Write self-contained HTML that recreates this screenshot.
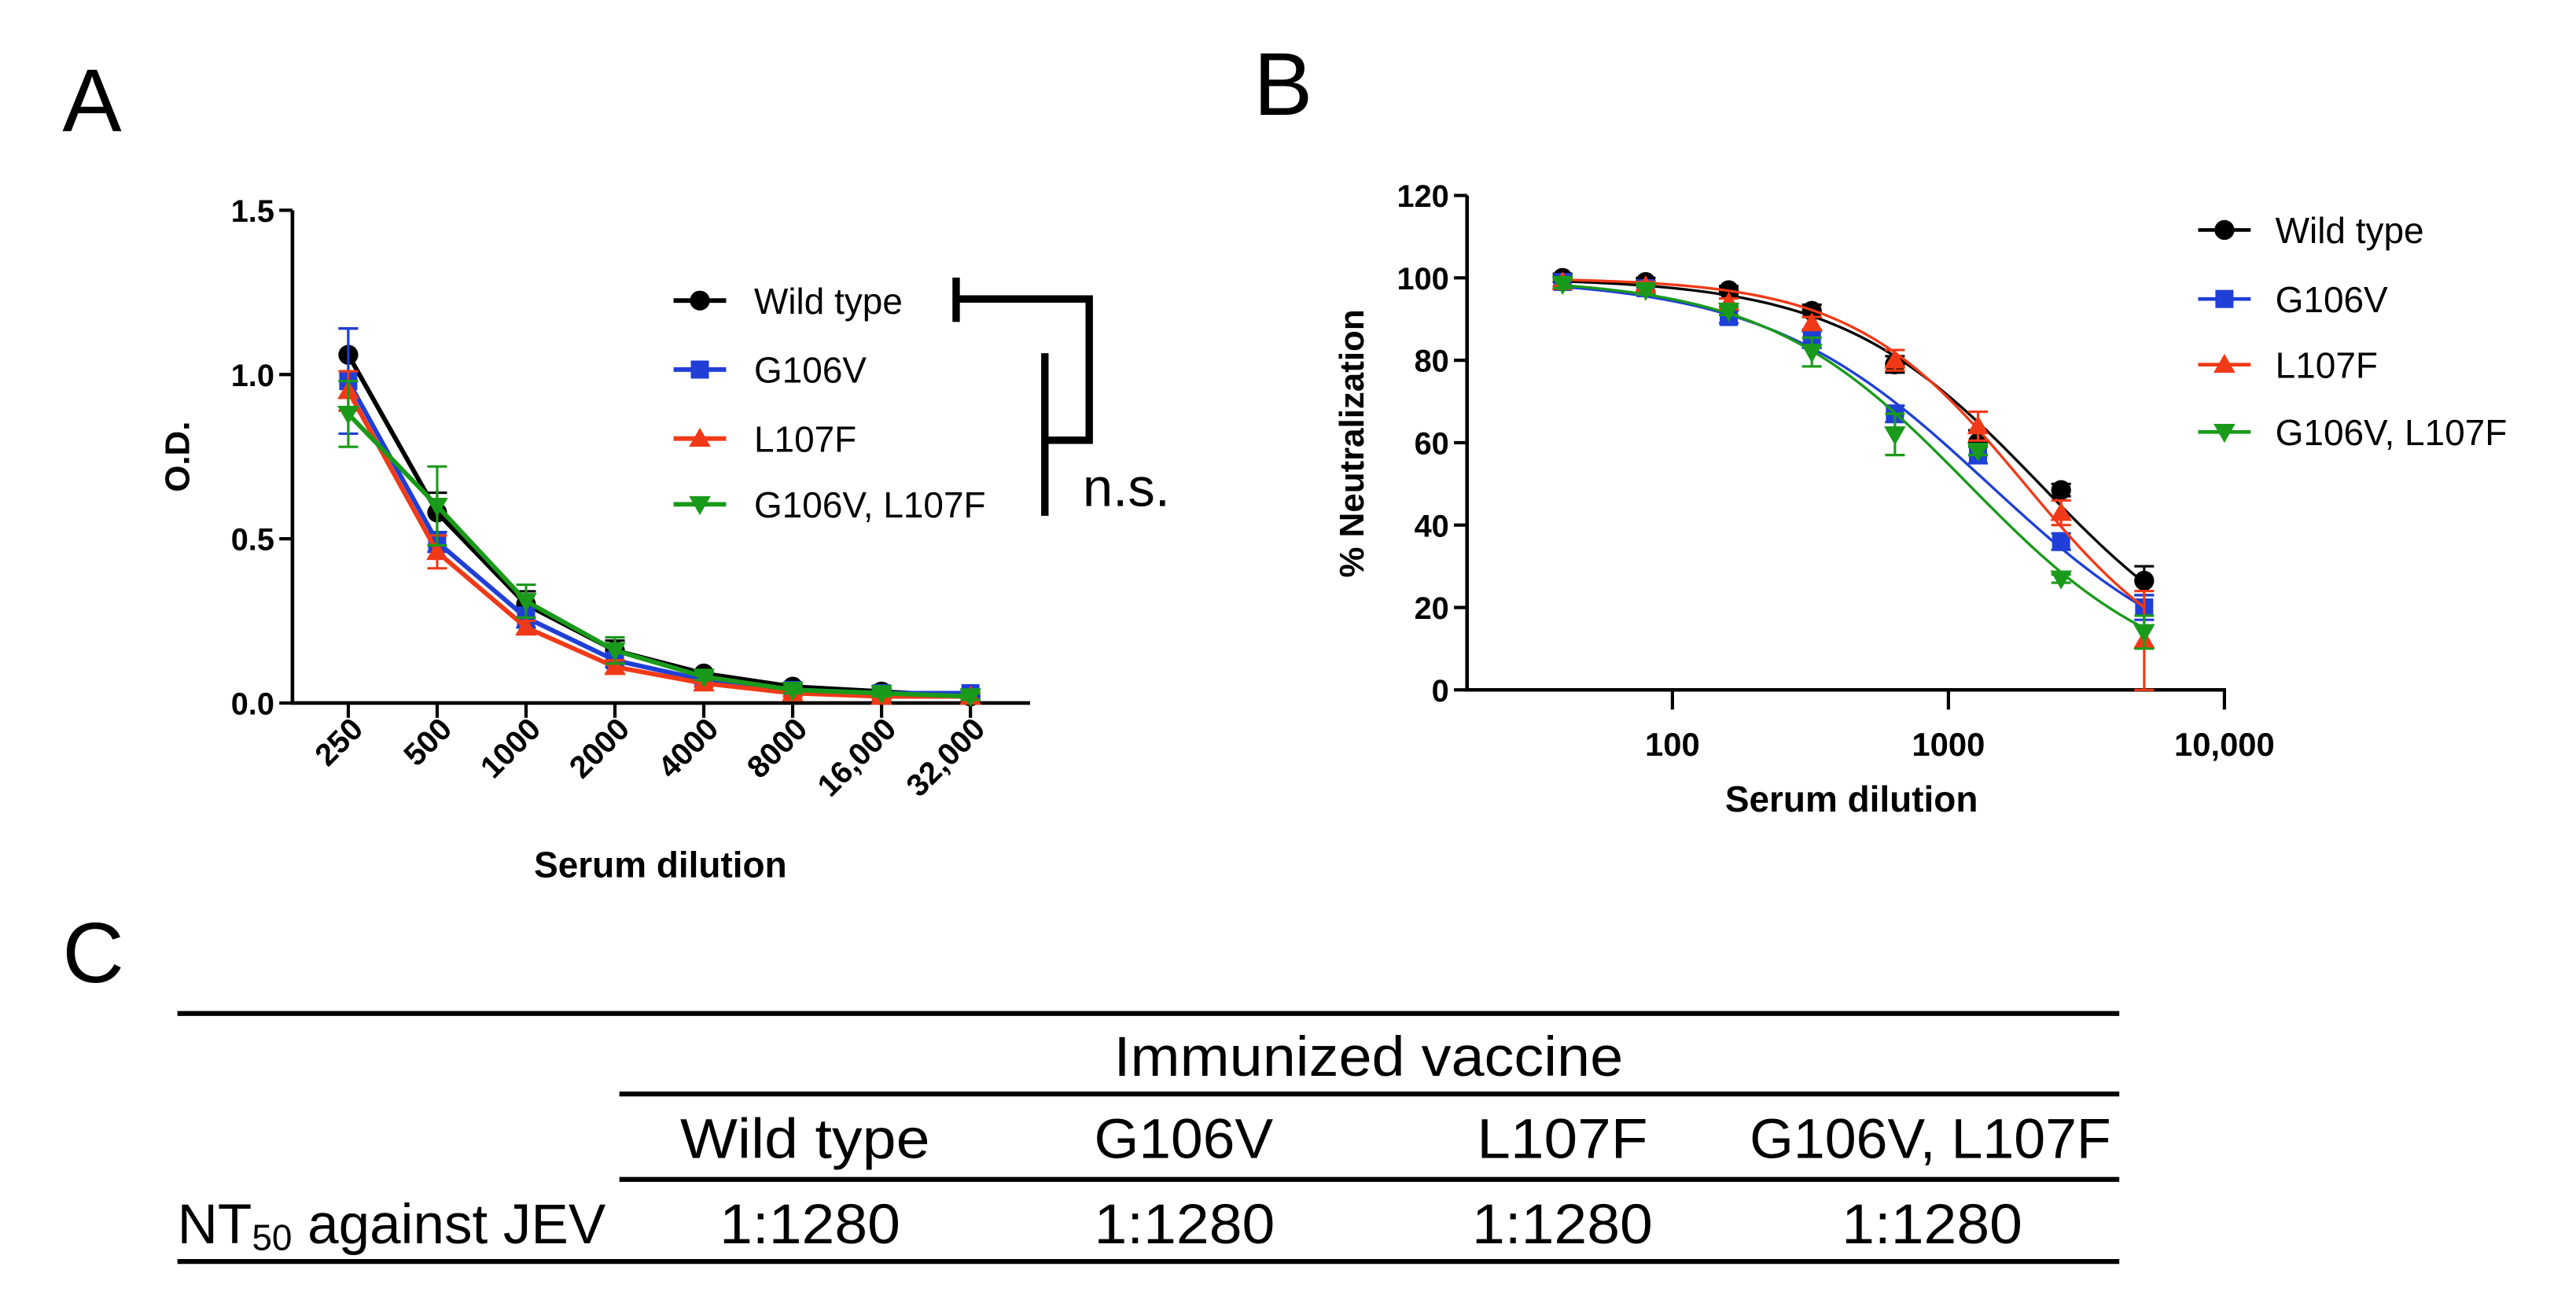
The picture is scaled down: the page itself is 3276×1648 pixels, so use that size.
<!DOCTYPE html>
<html><head><meta charset="utf-8"><style>
html,body{margin:0;padding:0;background:#fff;}
svg{display:block;}
text{font-family:"Liberation Sans",sans-serif;}
</style></head><body>
<svg id="fig" width="3276" height="1648" viewBox="0 0 1568 789" preserveAspectRatio="none" xmlns="http://www.w3.org/2000/svg">
<rect width="1568" height="789" fill="#fff"/>
<g id="pa"></g>
<g id="pb"></g>
<g id="pc">
<text x="38" y="598" font-size="52">C</text>
<line x1="108" y1="617" x2="1290" y2="617" stroke="#000" stroke-width="3"/>
<text x="678" y="655" font-size="34" textLength="310" lengthAdjust="spacingAndGlyphs">Immunized vaccine</text>
<line x1="377" y1="666" x2="1290" y2="666" stroke="#000" stroke-width="3"/>
<text x="414" y="705" font-size="34" textLength="152" lengthAdjust="spacingAndGlyphs">Wild type</text>
<text x="666" y="705" font-size="34" textLength="109" lengthAdjust="spacingAndGlyphs">G106V</text>
<text x="899" y="705" font-size="34" textLength="104" lengthAdjust="spacingAndGlyphs">L107F</text>
<text x="1065" y="705" font-size="34" textLength="220" lengthAdjust="spacingAndGlyphs">G106V, L107F</text>
<line x1="377" y1="718" x2="1290" y2="718" stroke="#000" stroke-width="3"/>
<text x="108" y="757" font-size="34">NT<tspan font-size="22" dy="4">50</tspan><tspan dy="-4"> against JEV</tspan></text>
<text x="438" y="757" font-size="34" textLength="110" lengthAdjust="spacingAndGlyphs">1:1280</text>
<text x="666" y="757" font-size="34" textLength="110" lengthAdjust="spacingAndGlyphs">1:1280</text>
<text x="896" y="757" font-size="34" textLength="110" lengthAdjust="spacingAndGlyphs">1:1280</text>
<text x="1121" y="757" font-size="34" textLength="110" lengthAdjust="spacingAndGlyphs">1:1280</text>
<line x1="108" y1="768" x2="1290" y2="768" stroke="#000" stroke-width="3"/>
</g>
</svg>
<script>
const NS='http://www.w3.org/2000/svg';
const seriesNames=['Wild type','G106V','L107F','G106V, L107F'];
const seriesColors=['#000000','#1f3fd6','#f03a17','#1a9a1a'];
const seriesMarkers=['circle','square','tri-up','tri-down'];
// Panel A data
const aCategories=['250','500','1000','2000','4000','8000','16,000','32,000'];
const aWild=[1.06,0.58,0.30,0.16,0.09,0.05,0.035,0.02];
const aG106V=[0.98,0.49,0.26,0.13,0.07,0.04,0.03,0.03];
const aL107F=[0.95,0.46,0.23,0.11,0.06,0.03,0.02,0.02];
const aDouble=[0.88,0.60,0.31,0.16,0.08,0.04,0.03,0.02];
const aErrWild=[0.08,0.06,0.04,0.03,0.01,0.01,0.01,0.01];
const aErrG106V=[0.16,0.03,0.03,0.02,0.01,0.01,0.01,0.01];
const aErrL107F=[0.06,0.05,0.02,0.02,0.01,0.01,0.01,0.01];
const aErrDouble=[0.10,0.12,0.05,0.04,0.01,0.01,0.01,0.01];
const aYTicks=[0,0.5,1.0,1.5];
const aYTickLabels=['0.0','0.5','1.0','1.5'];
// Panel B data
const bDilutions=[40,80,160,320,640,1280,2560,5120];
const bWild=[100,99,97,92,79,60,48.5,26.5];
const bG106V=[99,97.5,90.5,85,67,57,36,20];
const bL107F=[99,98,94,89,80,64,43,12];
const bDouble=[98.5,97,92,82,62,58,27,14];
const bErrWild=[1,1,1,1.5,2,3,1.5,3.5];
const bErrG106V=[1,1,1.5,2,2,2,2,3];
const bErrL107F=[1,1,1,1.5,2.5,3.5,3,12];
const bErrDouble=[1,1,1,3.5,5,1,1,4];
const bTop=[100,100,100,100];
const bIC50=[2140,1400,1890,1177];
const bHill=[1.2,1.07,1.39,1.18];
const bYTicks=[0,20,40,60,80,100,120];
const bXTicks=[100,1000,10000];
const bXTickLabels=['100','1000','10,000'];

function el(parent,tag,attrs,text){const e=document.createElementNS(NS,tag);for(const k in attrs)e.setAttribute(k,attrs[k]);if(text!==undefined)e.textContent=text;parent.appendChild(e);return e;}
function marker(g,type,x,y,s,color){
  let m;
  if(type==='circle')m=el(g,'circle',{cx:x,cy:y,r:s*0.55,fill:color});
  else if(type==='square')m=el(g,'rect',{x:x-s*0.5,y:y-s*0.5,width:s,height:s,fill:color});
  else if(type==='tri-up')m=el(g,'polygon',{points:`${x},${y-s*0.6} ${x-s*0.6},${y+s*0.45} ${x+s*0.6},${y+s*0.45}`,fill:color});
  else m=el(g,'polygon',{points:`${x},${y+s*0.6} ${x-s*0.6},${y-s*0.45} ${x+s*0.6},${y-s*0.45}`,fill:color});
  return m;
}

// ---------- Panel A ----------
(function(){
const g=document.getElementById('pa');
const x0=178,yTop=128,yBot=428,xEnd=627,xFirst=212,xStep=54.1,yMax=1.5;
const X=i=>xFirst+i*xStep;
const Y=v=>yBot-(v/yMax)*(yBot-yTop);
let t=el(g,'text',{x:38,y:80,'font-size':54});t.textContent='A';


let ax=el(g,'path',{d:`M${x0},${yTop} V${yBot} H${xEnd}`,stroke:'#000','stroke-width':2.2,fill:'none'});


aYTicks.forEach((v,i)=>{
  const tk=el(g,'line',{x1:x0-8,x2:x0,y1:Y(v),y2:Y(v),stroke:'#000','stroke-width':2});
  
  
  const lb=el(g,'text',{x:x0-11,y:Y(v)+7,'font-size':19,'font-weight':'bold','text-anchor':'end'},aYTickLabels[i]);
  
  
});
aCategories.forEach((c,i)=>{
  const tk=el(g,'line',{x1:X(i),x2:X(i),y1:yBot,y2:yBot+9,stroke:'#000','stroke-width':2});
  
  
  const lb=el(g,'text',{x:0,y:0,'font-size':19,'font-weight':'bold','text-anchor':'end',transform:`translate(${X(i)+10},${yBot+17}) rotate(-45)`},c);
  
  
});
let yt=el(g,'text',{x:0,y:0,'font-size':21,'font-weight':'bold','text-anchor':'middle',transform:`translate(115,278) rotate(-90)`},'O.D.');


let xt=el(g,'text',{x:402,y:534,'font-size':22,'font-weight':'bold','text-anchor':'middle'},'Serum dilution');


const vals=[aWild,aG106V,aL107F,aDouble],errs=[aErrWild,aErrG106V,aErrL107F,aErrDouble];
vals.forEach((arr,s)=>{
  const sg=el(g,'g',{});
  
  
  const c=seriesColors[s];
  arr.forEach((v,i)=>{
    const e=errs[s][i];
    el(sg,'path',{d:`M${X(i)},${Y(v+e)} V${Y(Math.max(0,v-e))} M${X(i)-6},${Y(v+e)} h12 M${X(i)-6},${Y(Math.max(0,v-e))} h12`,stroke:c,'stroke-width':1.5,fill:'none'});
  });
  el(sg,'polyline',{points:arr.map((v,i)=>`${X(i)},${Y(v)}`).join(' '),stroke:c,'stroke-width':2.8,fill:'none'});
  arr.forEach((v,i)=>{const m=marker(sg,seriesMarkers[s],X(i),Y(v),11,c);
    
    });
});
const legY=[183,225,267,307];
seriesNames.forEach((n,s)=>{
  const lg=el(g,'g',{});
  
  
  el(lg,'line',{x1:410,x2:442,y1:legY[s],y2:legY[s],stroke:seriesColors[s],'stroke-width':2.8});
  marker(lg,seriesMarkers[s],426,legY[s],11,seriesColors[s]);
  el(lg,'text',{x:459,y:legY[s]+8,'font-size':22},n);
});
const br=el(g,'path',{d:'M582,169 V196 M582,182 H663 V268 H636 M636,215 V314',stroke:'#000','stroke-width':4.5,fill:'none'});


const ns=el(g,'text',{x:659,y:308,'font-size':33},'n.s.');


})();

// ---------- Panel B ----------
(function(){
const g=document.getElementById('pb');
const x0=893,xEnd=1355,yBot=420,yTop=119,yMax=120;
const X=d=>1018+(Math.log10(d)-2)*168;
const Y=v=>yBot-(v/yMax)*(yBot-yTop);
let t=el(g,'text',{x:763,y:70,'font-size':54},'B');


let ax=el(g,'path',{d:`M${x0},${yTop} V${yBot} H${xEnd}`,stroke:'#000','stroke-width':2.2,fill:'none'});


bYTicks.forEach(v=>{
  const tk=el(g,'line',{x1:x0-8,x2:x0,y1:Y(v),y2:Y(v),stroke:'#000','stroke-width':2});
  
  
  const lb=el(g,'text',{x:x0-11,y:Y(v)+7,'font-size':19,'font-weight':'bold','text-anchor':'end'},String(v));
  
  
});
bXTicks.forEach((d,i)=>{
  const tk=el(g,'line',{x1:X(d),x2:X(d),y1:yBot,y2:yBot+12,stroke:'#000','stroke-width':2});
  
  
  const lb=el(g,'text',{x:X(d),y:460,'font-size':20,'font-weight':'bold','text-anchor':'middle'},bXTickLabels[i]);
  
  
});
let yt=el(g,'text',{x:0,y:0,'font-size':21,'font-weight':'bold','text-anchor':'middle',transform:`translate(830,270) rotate(-90)`},'% Neutralization');


let xt=el(g,'text',{x:1127,y:494,'font-size':22,'font-weight':'bold','text-anchor':'middle'},'Serum dilution');


const vals=[bWild,bG106V,bL107F,bDouble],errs=[bErrWild,bErrG106V,bErrL107F,bErrDouble];
vals.forEach((arr,s)=>{
  const sg=el(g,'g',{});
  
  
  const c=seriesColors[s];
  arr.forEach((v,i)=>{
    const d=bDilutions[i],e=errs[s][i];
    el(sg,'path',{d:`M${X(d)},${Y(v+e)} V${Y(Math.max(0,v-e))} M${X(d)-6},${Y(v+e)} h12 M${X(d)-6},${Y(Math.max(0,v-e))} h12`,stroke:c,'stroke-width':1.5,fill:'none'});
  });
  const pts=[];
  const lo=Math.log10(bDilutions[0]),hi=Math.log10(bDilutions[bDilutions.length-1]);
  for(let k=0;k<=120;k++){const ld=lo+(hi-lo)*k/120,d=Math.pow(10,ld);
    const y=bTop[s]/(1+Math.pow(d/bIC50[s],bHill[s]));pts.push(`${X(d).toFixed(2)},${Y(y).toFixed(2)}`);}
  const cv=el(sg,'polyline',{points:pts.join(' '),stroke:c,'stroke-width':1.6,fill:'none'});
  
  
  arr.forEach((v,i)=>{const m=marker(sg,seriesMarkers[s],X(bDilutions[i]),Y(v),11,c);
    
    });
});
const legY=[140,182,222,263];
seriesNames.forEach((n,s)=>{
  const lg=el(g,'g',{});
  
  
  el(lg,'line',{x1:1338,x2:1370,y1:legY[s],y2:legY[s],stroke:seriesColors[s],'stroke-width':2.2});
  marker(lg,seriesMarkers[s],1354,legY[s],11,seriesColors[s]);
  el(lg,'text',{x:1385,y:legY[s]+8,'font-size':22},n);
});
})();
</script>
</body></html>
